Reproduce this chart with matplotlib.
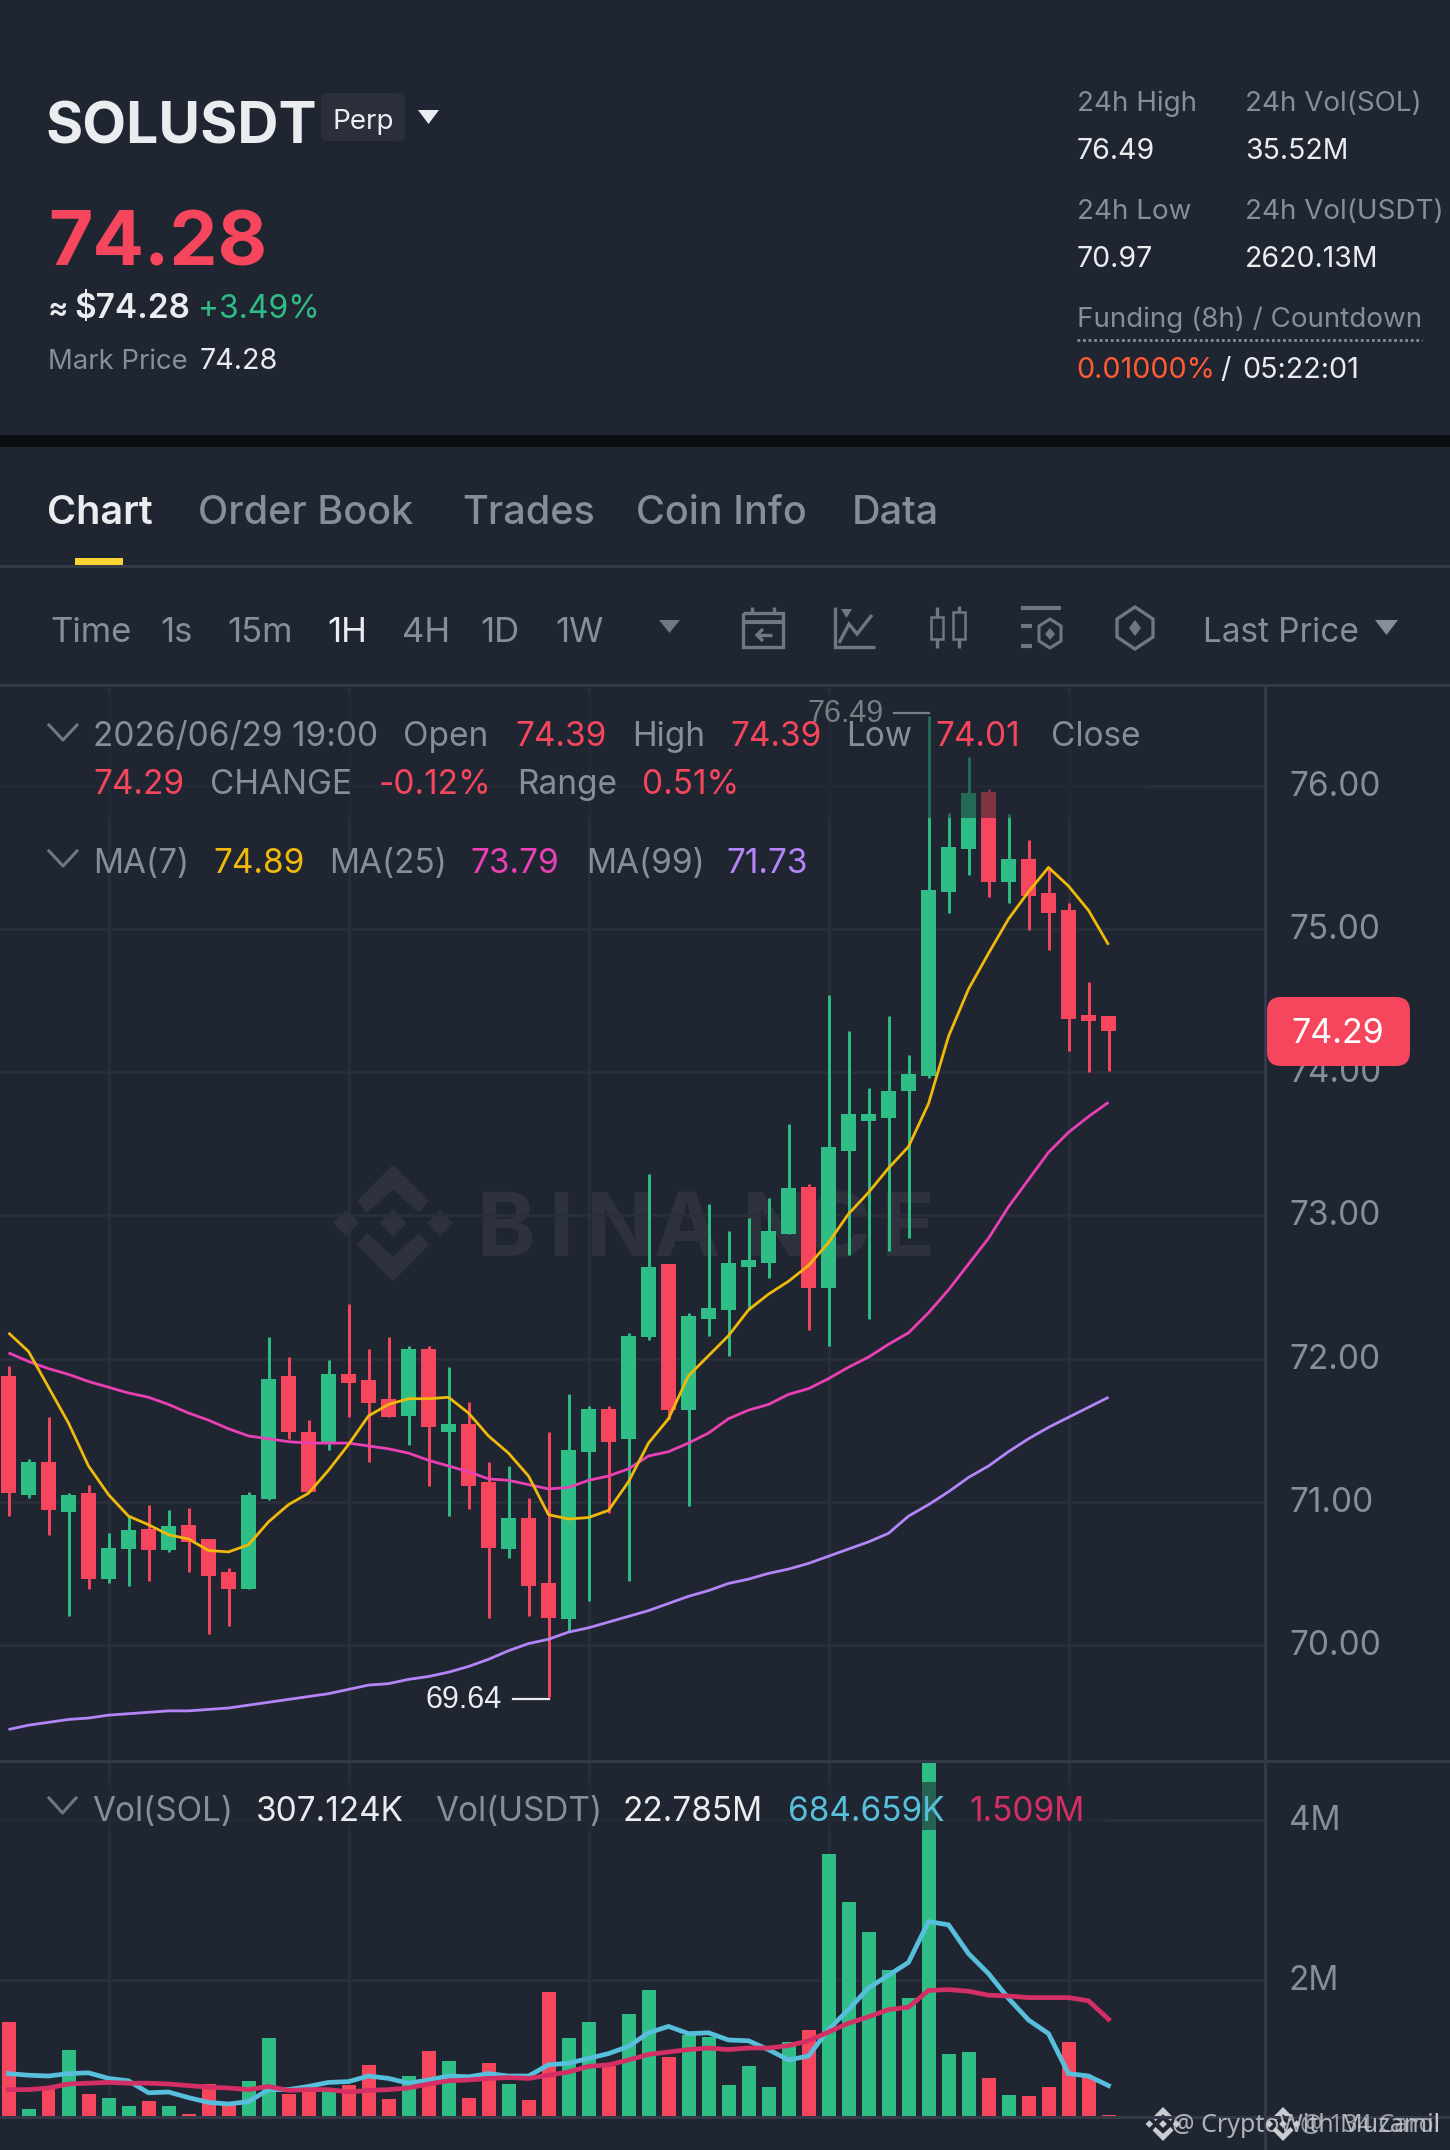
#!/usr/bin/env python3
"""SOLUSDT perp screen: candles, moving averages, volume panel and app chrome."""
import matplotlib
matplotlib.use("Agg")
import matplotlib.pyplot as plt
from matplotlib.patches import Rectangle, FancyBboxPatch, Polygon
from matplotlib.transforms import ScaledTranslation

plt.rcParams["font.family"] = ["Inter", "DejaVu Sans"]

W, H = 1450, 2150

# ---------------------------------------------------------------- candle data
opens = [71.88, 71.05, 71.28, 70.93, 71.06, 70.46, 70.67, 70.81, 70.66, 70.84,
         70.74, 70.51, 70.39, 71.02, 71.88, 71.49, 71.41, 71.89, 71.85, 71.72,
         71.60, 72.07, 71.49, 71.54, 71.14, 70.67, 70.89, 70.43, 70.18, 71.35,
         71.65, 71.44, 72.15, 72.66, 71.64, 72.28, 72.34, 72.64, 72.67, 72.87,
         73.20, 72.49, 73.45, 73.66, 73.68, 73.87, 73.97, 75.26, 75.56, 75.96,
         75.33, 75.49, 75.25, 75.13, 74.40, 74.39]
highs = [71.95, 71.30, 71.59, 71.06, 71.12, 70.78, 70.90, 70.98, 70.94, 70.96,
         70.74, 70.54, 71.07, 72.15, 72.01, 71.57, 71.99, 72.38, 72.07, 72.15,
         72.09, 72.09, 71.94, 71.70, 71.28, 71.25, 71.03, 71.49, 71.75, 71.67,
         71.67, 72.18, 73.29, 72.66, 72.32, 73.08, 72.89, 72.98, 73.12, 73.64,
         73.22, 74.54, 74.29, 73.89, 74.39, 74.12, 76.49, 75.81, 76.20, 75.98,
         75.80, 75.62, 75.42, 75.18, 74.63, 74.39]
lows = [70.90, 71.03, 70.77, 70.20, 70.39, 70.43, 70.41, 70.45, 70.65, 70.51,
        70.08, 70.13, 70.39, 71.01, 71.44, 71.07, 71.36, 71.59, 71.28, 71.59,
        71.40, 71.11, 70.90, 70.95, 70.19, 70.61, 70.20, 69.64, 70.10, 70.31,
        70.92, 70.45, 72.13, 71.58, 70.97, 72.16, 72.02, 72.34, 72.56, 72.87,
        72.20, 72.09, 72.72, 72.28, 72.75, 72.84, 73.96, 75.11, 75.38, 75.22,
        75.18, 74.99, 74.85, 74.15, 74.00, 74.01]
closes = [71.06, 71.28, 70.94, 71.05, 70.46, 70.68, 70.80, 70.66, 70.83, 70.72,
          70.48, 70.39, 71.05, 71.86, 71.49, 71.07, 71.89, 71.83, 71.69, 71.59,
          72.07, 71.52, 71.54, 71.11, 70.68, 70.89, 70.41, 70.19, 71.36, 71.65,
          71.42, 72.16, 72.64, 71.64, 72.30, 72.35, 72.67, 72.69, 72.89, 73.19,
          72.49, 73.48, 73.71, 73.71, 73.87, 73.99, 75.27, 75.57, 75.95, 75.33,
          75.49, 75.23, 75.11, 74.37, 74.36, 74.29]

ma7 = [72.18, 72.05, 71.80, 71.55, 71.25, 71.05, 70.90, 70.84, 70.77, 70.74,
       70.66, 70.65, 70.70, 70.86, 70.98, 71.06, 71.22, 71.40, 71.60, 71.68,
       71.72, 71.72, 71.73, 71.62, 71.46, 71.34, 71.18, 70.91, 70.88, 70.89,
       70.94, 71.14, 71.41, 71.58, 71.88, 72.02, 72.16, 72.34, 72.45, 72.54,
       72.65, 72.81, 73.01, 73.16, 73.33, 73.48, 73.78, 74.25, 74.58, 74.83,
       75.07, 75.26, 75.43, 75.30, 75.13, 74.89]
ma25 = [72.04, 71.98, 71.93, 71.89, 71.84, 71.80, 71.76, 71.73, 71.68, 71.62,
        71.57, 71.51, 71.46, 71.44, 71.42, 71.41, 71.41, 71.41, 71.39, 71.37,
        71.34, 71.29, 71.25, 71.21, 71.16, 71.15, 71.12, 71.09, 71.10, 71.15,
        71.18, 71.23, 71.32, 71.35, 71.41, 71.48, 71.58, 71.64, 71.68, 71.75,
        71.79, 71.86, 71.94, 72.01, 72.10, 72.18, 72.32, 72.48, 72.66, 72.84,
        73.06, 73.25, 73.44, 73.58, 73.69, 73.79]
ma99 = [69.41, 69.44, 69.46, 69.48, 69.49, 69.51, 69.52, 69.53, 69.54, 69.54,
        69.55, 69.56, 69.58, 69.60, 69.62, 69.64, 69.66, 69.69, 69.72, 69.73,
        69.76, 69.78, 69.81, 69.85, 69.90, 69.96, 70.01, 70.04, 70.09, 70.12,
        70.16, 70.20, 70.24, 70.29, 70.34, 70.38, 70.43, 70.46, 70.50, 70.53,
        70.57, 70.62, 70.67, 70.72, 70.78, 70.90, 70.98, 71.07, 71.17, 71.25,
        71.35, 71.44, 71.52, 71.59, 71.66, 71.73]

# ---------------------------------------------------------------- volume, in M
volume = [1.48, 0.39, 0.65, 1.13, 0.57, 0.52, 0.43, 0.49, 0.43, 0.33,
          0.70, 0.46, 0.74, 1.28, 0.58, 0.63, 0.65, 0.69, 0.94, 0.51,
          0.80, 1.11, 0.99, 0.52, 0.96, 0.70, 0.50, 1.85, 1.28, 1.47,
          0.92, 1.57, 1.88, 1.04, 1.31, 1.29, 0.69, 0.93, 0.66, 1.23,
          1.38, 3.58, 2.98, 2.60, 2.12, 1.78, 4.80, 1.08, 1.10, 0.77,
          0.56, 0.55, 0.66, 1.22, 0.79, 0.307]
vol_ma_fast = [0.83, 0.81, 0.80, 0.83, 0.84, 0.77, 0.74, 0.59, 0.60, 0.53,
               0.47, 0.45, 0.48, 0.63, 0.63, 0.67, 0.72, 0.73, 0.80, 0.77,
               0.71, 0.75, 0.80, 0.79, 0.83, 0.80, 0.80, 0.94, 0.96, 1.02,
               1.08, 1.17, 1.34, 1.42, 1.33, 1.34, 1.25, 1.24, 1.13, 1.00,
               1.05, 1.38, 1.63, 1.90, 2.06, 2.22, 2.73, 2.69, 2.33, 2.08,
               1.77, 1.50, 1.33, 0.83, 0.80, 0.68]
vol_ma_slow = [0.63, 0.63, 0.65, 0.70, 0.71, 0.72, 0.71, 0.71, 0.70, 0.68,
               0.66, 0.65, 0.63, 0.67, 0.62, 0.63, 0.63, 0.60, 0.62, 0.63,
               0.65, 0.70, 0.74, 0.75, 0.77, 0.78, 0.77, 0.81, 0.85, 0.92,
               0.94, 1.00, 1.07, 1.10, 1.13, 1.15, 1.13, 1.15, 1.15, 1.18,
               1.24, 1.35, 1.46, 1.54, 1.63, 1.66, 1.87, 1.88, 1.86, 1.81,
               1.80, 1.78, 1.78, 1.78, 1.74, 1.51]

price_ticks = [70, 71, 72, 73, 74, 75, 76]
price_tick_labels = ["70.00", "71.00", "72.00", "73.00", "74.00", "75.00", "76.00"]
vol_ticks = [2, 4]
vol_tick_labels = ["2M", "4M"]
time_grid = [5, 17, 29, 41, 53]

# ---------------------------------------------------------------------- colours
BG = "#1F2631"
SEP = "#333946"
GRID = "#2A303B"
GREY = "#848E9C"
DIM = "#6F7786"
WHITE = "#EAECEF"
UP = "#2EBD85"
DOWN = "#F6465D"
YELLOW = "#F0B90B"
PINK = "#EB40B5"
PURPLE = "#B385F8"
VOL_FAST = "#57BEDB"
VOL_SLOW = "#D42F64"

fig = plt.figure(figsize=(W / 100, H / 100), dpi=100, facecolor=BG)

def px_axes(left, top, right, bottom, z):
    return fig.add_axes([left / W, 1 - bottom / H, (right - left) / W, (bottom - top) / H], zorder=z)

under = px_axes(0, 0, W, H, 0)
over = px_axes(0, 0, W, H, 5)
for a in (under, over):
    a.set_xlim(0, W); a.set_ylim(H, 0); a.axis("off")
    a.patch.set_alpha(0)

# ------------------------------------------------------------- watermark (under)
MARK = "#2D323D"
def logo(ax, cx, cy, s, color, z=1):
    """Binance mark, s = half height in px."""
    k = s / 58.5
    shapes = [[(0, -13.5), (13.5, 0), (0, 13.5), (-13.5, 0)],
              [(-47, -13), (-34, 0), (-47, 13), (-60, 0)],
              [(47, -13), (60, 0), (47, 13), (34, 0)],
              [(0, -58.5), (36, -22), (26, -10), (0, -33.5), (-26, -10), (-36, -22)],
              [(0, 58.5), (36, 22), (26, 10), (0, 33.5), (-26, 10), (-36, 22)]]
    for pts in shapes:
        ax.add_patch(Polygon([(cx + k * x, cy + k * y) for x, y in pts], closed=True,
                             fc=color, ec="none", zorder=z))

logo(under, 393, 1223, 58.5, MARK)
for ch, x in zip("BINANCE", [476, 548, 585, 654, 741, 805, 880]):
    under.text(x, 1256, ch, color=MARK, fontsize=64, fontweight="bold", ha="left", va="baseline")

# ------------------------------------------------------------------ price panel
idx = list(range(len(closes)))
XLIM = (-8.5 / 20, (1265 - 8.5) / 20)

ax = px_axes(0, 688, 1265, 1761, 1)
ax.patch.set_alpha(0)
ax.set_xlim(*XLIM)
ax.set_ylim(70 + (1645 - 1761) / 143.2, 70 + (1645 - 688) / 143.2)
for y in price_ticks:
    ax.axhline(y, color=GRID, lw=2, zorder=1)
for x in time_grid:
    ax.axvline(x, color=GRID, lw=2, zorder=1)

colors = [UP if c >= o else DOWN for o, c in zip(opens, closes)]
ax.vlines(idx, lows, highs, colors=colors, lw=2.1, zorder=2)
ax.bar(idx, [abs(c - o) for o, c in zip(opens, closes)], bottom=[min(o, c) for o, c in zip(opens, closes)],
       width=0.71, color=colors, zorder=3)
ax.plot(idx, ma99, color=PURPLE, lw=2.0, zorder=4, solid_capstyle="butt")
ax.plot(idx, ma25, color=PINK, lw=2.0, zorder=4, solid_capstyle="butt")
ax.plot(idx, ma7, color=YELLOW, lw=2.0, zorder=5, solid_capstyle="butt")

def px_shift(dy):
    return ax.transData + ScaledTranslation(0, dy / 100, fig.dpi_scale_trans)

hi = highs.index(max(highs))
lo = lows.index(min(lows))
ax.plot([hi - 1.75, hi], [highs[hi]] * 2, color=WHITE, lw=1.6, transform=px_shift(3), zorder=6)
ax.text(hi - 2.25, highs[hi], f"{highs[hi]:.2f}", color=WHITE, fontsize=22, family="Liberation Sans",
        ha="right", va="center_baseline", transform=px_shift(5), zorder=6)
ax.plot([lo - 1.8, lo], [lows[lo]] * 2, color=WHITE, lw=1.6, transform=px_shift(-2), zorder=6)
ax.text(lo - 2.35, lows[lo], f"{lows[lo]:.2f}", color=WHITE, fontsize=22, family="Liberation Sans",
        ha="right", va="center_baseline", transform=px_shift(0), zorder=6)

ax.yaxis.tick_right()
ax.set_yticks(price_ticks, price_tick_labels)
ax.set_xticks([])
ax.tick_params(axis="y", length=0, pad=17.8, labelsize=24, labelcolor=GREY)
for s in ax.spines.values():
    s.set_visible(False)

# ----------------------------------------------------------------- volume panel
vx = px_axes(0, 1763, 1265, 2117, 1)
vx.patch.set_alpha(0)
vx.set_xlim(*XLIM)
vx.set_ylim((2140 - 2117) / 80, (2140 - 1763) / 80)
for y in vol_ticks:
    vx.axhline(y, color=GRID, lw=2, zorder=1)
for x in time_grid:
    vx.axvline(x, color=GRID, lw=2, zorder=1)
vx.bar(idx, volume, width=0.7, color=colors, zorder=2)
vx.plot(idx, vol_ma_fast, color=VOL_FAST, lw=3.4, zorder=3, solid_joinstyle="miter")
vx.plot(idx, vol_ma_slow, color=VOL_SLOW, lw=3.4, zorder=4, solid_joinstyle="miter")
vx.yaxis.tick_right()
vx.set_yticks(vol_ticks, vol_tick_labels)
vx.set_xticks([])
vx.tick_params(axis="y", length=0, pad=17, labelsize=24, labelcolor=GREY)
for s in vx.spines.values():
    s.set_visible(False)

# tick labels sit a little above their grid lines
for a in (ax, vx):
    for t in a.get_yticklabels():
        t.set_transform(t.get_transform() + ScaledTranslation(0, 2.5 / 100, fig.dpi_scale_trans))

# ------------------------------------------------------------------ chrome (over)
def txt(x, y, s, color=GREY, size=24, weight="normal", ha="left", **kw):
    over.text(x, y, s, color=color, fontsize=size, fontweight=weight, ha=ha, va="baseline", **kw)

def hline(x0, x1, y, color=SEP, lw=2.2):
    over.plot([x0, x1], [y, y], color=color, lw=lw, solid_capstyle="butt")

def tri(x0, x1, y0, y1, color):
    over.add_patch(Polygon([(x0, y0), (x1, y0), ((x0 + x1) / 2, y1)], closed=True, fc=color, ec="none"))

def chevron(x0, x1, y0, y1, color=DIM):
    over.plot([x0, (x0 + x1) / 2, x1], [y0, y1, y0], color=color, lw=2.2)

# translucent legend plates dim whatever runs behind the text
over.add_patch(Rectangle((0, 693), 1145, 125, fc=BG, ec="none", alpha=0.55))
over.add_patch(Rectangle((0, 1782), 1105, 48, fc=BG, ec="none", alpha=0.6))

over.add_patch(Rectangle((0, 435), W, 12, fc="#0A0D10", ec="none"))
hline(0, W, 566)
hline(0, W, 685)
hline(0, W, 1761)
hline(0, W, 2117)
over.plot([1265, 1265], [685, H], color=SEP, lw=2.2)
over.add_patch(Rectangle((75, 558), 48, 9, fc="#FCD535", ec="none"))

# header
txt(46, 144, "SOLUSDT", WHITE, 41, "bold")
over.add_patch(FancyBboxPatch((325, 97), 76, 40, boxstyle="round,pad=4,rounding_size=6", fc="#2A2F3B", ec="none"))
txt(363, 129, "Perp", WHITE, 20, ha="center")
tri(418, 439, 110, 124, WHITE)
txt(48, 265, "74.28", DOWN, 55, "bold")
txt(48, 318, "≈", WHITE, 22, "semibold")
txt(74, 318, "$74.28", WHITE, 24, "semibold")
txt(198, 318, "+3.49%", UP, 23)
txt(48, 369, "Mark Price", GREY, 19.8)
txt(200, 369, "74.28", WHITE, 20.7)

txt(1077, 111, "24h High", GREY, 20)
txt(1245, 111, "24h Vol(SOL)", GREY, 20)
txt(1077, 159, "76.49", WHITE, 20.5)
txt(1245, 159, "35.52M", WHITE, 20.5)
txt(1077, 219, "24h Low", GREY, 20)
txt(1245, 219, "24h Vol(USDT)", GREY, 20)
txt(1077, 267, "70.97", WHITE, 20.5)
txt(1245, 267, "2620.13M", WHITE, 20.5)
txt(1077, 327, "Funding (8h) / Countdown", GREY, 20)
over.plot([1077, 1422], [340, 340], color=GREY, lw=2, linestyle=(0, (1, 1)))
txt(1076, 378, "0.01000%", "#FF5C33", 20.7)
txt(1220, 378, "/", WHITE, 20.7)
txt(1242, 378, "05:22:01", WHITE, 20.7)

# tabs
for s, x, col, w in [("Chart", 47, WHITE, "semibold"), ("Order Book", 198, GREY, "medium"),
                     ("Trades", 462, GREY, "medium"), ("Coin Info", 636, GREY, "medium"),
                     ("Data", 852, GREY, "medium")]:
    txt(x, 524, s, col, 28.5, w)

for s, x, col in [("Time", 50, GREY), ("1s", 160, GREY), ("15m", 227, GREY), ("1H", 327, WHITE),
                  ("4H", 402, GREY), ("1D", 480, GREY), ("1W", 555, GREY)]:
    txt(x, 642, s, col, 25)
txt(1203, 642, "Last Price", GREY, 24)
tri(659, 680, 620, 633, DIM)
tri(1375, 1398, 620, 635, GREY)

# toolbar icons
IC = DIM
def stroke(xs, ys, lw=2.4):
    over.plot(xs, ys, color=IC, lw=lw, solid_capstyle="butt", solid_joinstyle="miter")

# calendar
stroke([743, 783, 783, 743, 743], [613, 613, 647, 647, 613])
stroke([743, 783], [622, 622], 3)
stroke([752, 752], [607, 613]); stroke([774, 774], [607, 613])
stroke([772, 757], [635, 635]); stroke([763, 757, 763], [629, 635, 641])
# indicator
stroke([835, 835, 875], [607, 647, 647])
tri(841, 852, 609, 618, IC)
stroke([839, 849, 857, 872], [643, 624, 634, 615])
# candles
over.add_patch(Rectangle((931, 617), 12, 22, fc="none", ec=IC, lw=1.8))
over.add_patch(Rectangle((953, 612), 12, 27, fc="none", ec=IC, lw=1.8))
stroke([937, 937], [607, 617]); stroke([937, 937], [639, 648])
stroke([959, 959], [606, 612]); stroke([959, 959], [639, 648])
# settings
stroke([1021, 1061], [608, 608], 3)
stroke([1021, 1032], [626, 626], 3); stroke([1021, 1032], [646, 646], 3)
over.add_patch(Polygon([(1050, 619), (1061, 626), (1061, 641), (1050, 648), (1039, 641), (1039, 626)],
                       closed=True, fc="none", ec=IC, lw=2.2))
over.add_patch(Polygon([(1050, 628), (1055, 634), (1050, 640), (1045, 634)], closed=True, fc=IC, ec="none"))
# depth hexagon
over.add_patch(Polygon([(1135, 607), (1153, 619), (1153, 637), (1135, 649), (1117, 637), (1117, 619)],
                       closed=True, fc="none", ec=IC, lw=2.4))
over.add_patch(Polygon([(1135, 620), (1141, 628), (1135, 636), (1129, 628)], closed=True, fc=IC, ec="none"))

# candle legend
chevron(49, 77, 725, 740)
for s, x, col in [("2026/06/29 19:00", 93, GREY), ("Open", 403, GREY), ("74.39", 515, DOWN), ("High", 632, GREY),
                  ("74.39", 730, DOWN), ("Low", 846, GREY), ("74.01", 935, DOWN), ("Close", 1051, GREY)]:
    txt(x, 746, s, col, 24)
for s, x, col in [("74.29", 93, DOWN), ("CHANGE", 210, GREY), ("-0.12%", 379, DOWN), ("Range", 517, GREY),
                  ("0.51%", 642, DOWN)]:
    txt(x, 794, s, col, 24)
chevron(49, 77, 851, 866)
for s, x, col in [("MA(7)", 93, GREY), ("74.89", 213, YELLOW), ("MA(25)", 329, GREY), ("73.79", 470, PINK),
                  ("MA(99)", 586, GREY), ("71.73", 726, PURPLE)]:
    txt(x, 873, s, col, 24)

# volume legend
chevron(49, 76, 1798, 1813)
for s, x, col in [("Vol(SOL)", 92, GREY), ("307.124K", 256, WHITE), ("Vol(USDT)", 435, GREY), ("22.785M", 623, WHITE),
                  ("684.659K", 788, VOL_FAST), ("1.509M", 969, VOL_SLOW)]:
    txt(x, 1821, s, col, 24)

# last price tag
over.add_patch(FancyBboxPatch((1275, 1005), 127, 53, boxstyle="round,pad=8,rounding_size=14", fc=DOWN, ec="none"))
txt(1338, 1043, "74.29", "white", 24.5, ha="center")

# share watermark, two strings drawn over each other
logo(over, 1163, 2124, 17, "#C9CCD1")
logo(over, 1283, 2124, 17, "#C9CCD1")
txt(1440, 2132, "@ CryptoWith Muzamil", "#C9CCD1", 18, ha="right", family=["Noto Sans", "DejaVu Sans"], alpha=0.85)
txt(1440, 2132, "@ 134 Carol", "#C9CCD1", 18, ha="right", family=["Noto Sans", "DejaVu Sans"], alpha=0.7)

fig.savefig("out.png", dpi=100, facecolor=BG)
